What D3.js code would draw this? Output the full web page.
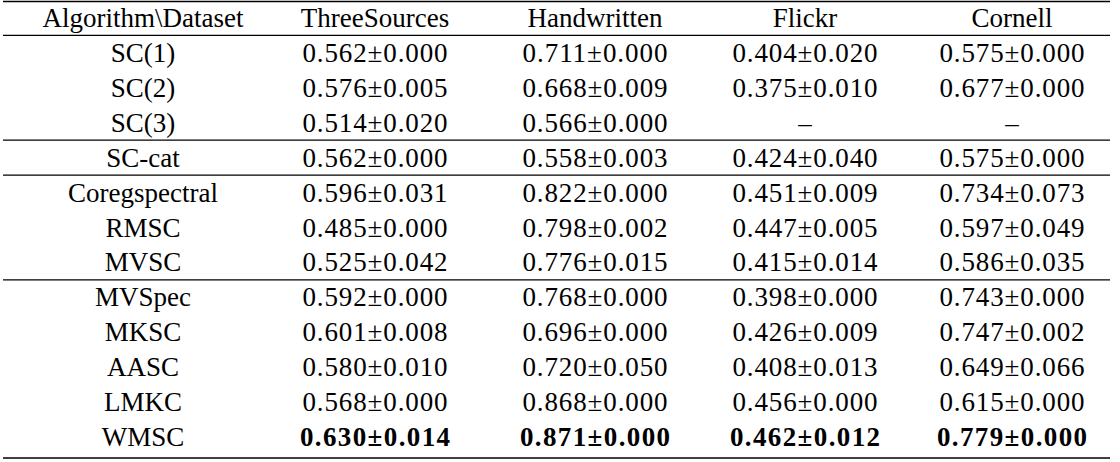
<!DOCTYPE html>
<html><head><meta charset="utf-8">
<script src="https://cdn.jsdelivr.net/npm/d3@7"></script>
<style>body{margin:0;background:#fff} text{font-family:'Liberation Serif','DejaVu Serif',serif;}</style></head>
<body><svg id="c" width="1120" height="462"></svg>
<script>
const headers = ["Algorithm\\Dataset","ThreeSources","Handwritten","Flickr","Cornell"];
const algorithms = ["SC(1)","SC(2)","SC(3)","SC-cat","Coregspectral","RMSC","MVSC","MVSpec","MKSC","AASC","LMKC","WMSC"];
const threeSources = ["0.562±0.000","0.576±0.005","0.514±0.020","0.562±0.000","0.596±0.031","0.485±0.000","0.525±0.042","0.592±0.000","0.601±0.008","0.580±0.010","0.568±0.000","0.630±0.014"];
const handwritten = ["0.711±0.000","0.668±0.009","0.566±0.000","0.558±0.003","0.822±0.000","0.798±0.002","0.776±0.015","0.768±0.000","0.696±0.000","0.720±0.050","0.868±0.000","0.871±0.000"];
const flickr = ["0.404±0.020","0.375±0.010","–","0.424±0.040","0.451±0.009","0.447±0.005","0.415±0.014","0.398±0.000","0.426±0.009","0.408±0.013","0.456±0.000","0.462±0.012"];
const cornell = ["0.575±0.000","0.677±0.000","–","0.575±0.000","0.734±0.073","0.597±0.049","0.586±0.035","0.743±0.000","0.747±0.002","0.649±0.066","0.615±0.000","0.779±0.000"];
const groupBreaks = [2,3,6];
const boldRow = 11;

const svg = d3.select("#c");
const x = d3.scaleOrdinal().domain(d3.range(5)).range([143,375,595,805,1012]);
const y = d3.scaleLinear().domain([-1, 11]).range([18, 437]);
const rows = algorithms.map((a,i)=>[a,threeSources[i],handwritten[i],flickr[i],cornell[i]]);

const hline = (yy,w)=>svg.append("line").attr("x1",3).attr("x2",1110).attr("y1",yy).attr("y2",yy).attr("stroke","#000").attr("stroke-width",w);
hline(1.5,1.5); hline((y(-1)+y(0))/2,1.2); hline(458,1.5);
groupBreaks.forEach(b=>hline((y(b)+y(b+1))/2,1.2));

svg.append("g").selectAll("text").data(headers).join("text")
  .attr("x",(d,i)=>x(i)).attr("y",y(-1)).attr("text-anchor","middle").attr("dominant-baseline","central")
  .attr("font-size",27).text(d=>d);

rows.forEach((r,ri)=>{
  svg.append("g").selectAll("text").data(r).join("text")
    .attr("x",(d,i)=>x(i)).attr("y",y(ri)).attr("text-anchor","middle").attr("dominant-baseline","central")
    .attr("font-size",i=>27)
    .attr("textLength",(d,i)=>i>0&&d.length>3?(ri===boldRow?150:145):null)
    .attr("font-weight",(d,i)=>ri===boldRow&&i>0?"bold":"normal").text(d=>d);
});
</script></body></html>
